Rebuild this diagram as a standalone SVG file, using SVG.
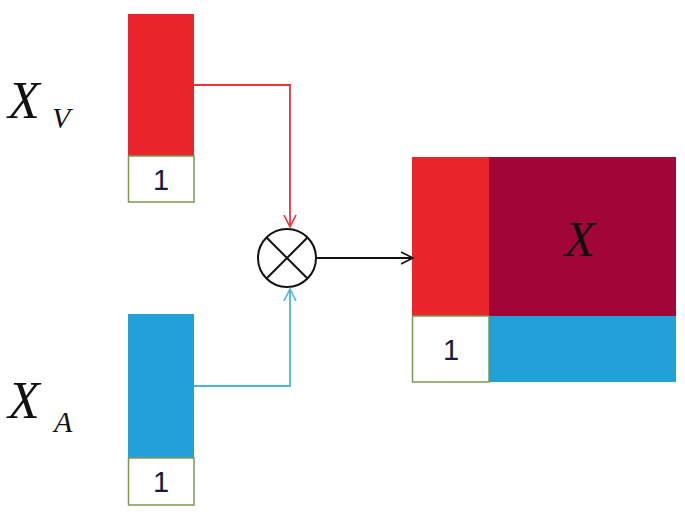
<svg xmlns="http://www.w3.org/2000/svg" width="685" height="517" viewBox="0 0 685 517">
<style>
.one{font-family:"Liberation Sans",Arial,sans-serif;font-size:29px;fill:#1a1a40;text-anchor:middle}
.var{font-family:"Liberation Serif","Times New Roman",serif;font-style:italic;fill:#111}
.box{fill:#fff;stroke:#7a9a50;stroke-width:1.5}
</style>
<defs>
<marker id="arR" viewBox="0 0 14 14" refX="12" refY="7" markerWidth="14" markerHeight="14" markerUnits="userSpaceOnUse" orient="auto"><path d="M0,1 L12,7 L0,13" fill="none" stroke="#e8343c" stroke-width="1.6"/></marker>
<marker id="arB" viewBox="0 0 14 14" refX="12" refY="7" markerWidth="14" markerHeight="14" markerUnits="userSpaceOnUse" orient="auto"><path d="M0,1 L12,7 L0,13" fill="none" stroke="#4bb6dc" stroke-width="1.6"/></marker>
<marker id="arK" viewBox="0 0 14 14" refX="12" refY="7" markerWidth="14" markerHeight="14" markerUnits="userSpaceOnUse" orient="auto"><path d="M0,1 L12,7 L0,13" fill="none" stroke="#111" stroke-width="1.6"/></marker>
</defs>
<rect width="685" height="517" fill="#fff"/>
<g id="label-xv"><text class="var" x="8" y="118" font-size="52">X</text><text class="var" x="52" y="128" font-size="30">V</text></g>
<g id="label-xa"><text class="var" x="8" y="418" font-size="52">X</text><text class="var" x="54" y="432" font-size="30">A</text></g>
<g id="xv"><rect x="128" y="14" width="66" height="142" fill="#e8262c"/><rect class="box" x="128.5" y="156" width="65.5" height="46"/><text class="one" x="161" y="190">1</text></g>
<g id="xa"><rect x="128" y="314" width="66" height="144" fill="#22a0d8"/><rect class="box" x="128.5" y="458" width="65.5" height="47"/><text class="one" x="161" y="492">1</text></g>
<g id="mult"><circle cx="287" cy="258" r="29" fill="#fff" stroke="#111" stroke-width="2"/><line x1="266.5" y1="237.5" x2="307.5" y2="278.5" stroke="#111" stroke-width="2"/><line x1="307.5" y1="237.5" x2="266.5" y2="278.5" stroke="#111" stroke-width="2"/></g>
<g id="x"><rect x="412" y="157" width="77" height="159" fill="#e8262c"/><rect x="489" y="157" width="187" height="159" fill="#a10637"/><rect class="box" x="412.5" y="316" width="76.5" height="66"/><rect x="489" y="316" width="187" height="66" fill="#22a0d8"/><text class="var" x="580" y="256" font-size="50" text-anchor="middle">X</text><text class="one" x="451" y="360">1</text></g>
<g id="connectors" fill="none" stroke-width="1.8">
<path d="M194,85 H290 V227" stroke="#e8343c" marker-end="url(#arR)"/>
<path d="M194,386 H290 V289" stroke="#4bb6dc" marker-end="url(#arB)"/>
<path d="M316,258 H413" stroke="#111" marker-end="url(#arK)"/>
</g>
</svg>
